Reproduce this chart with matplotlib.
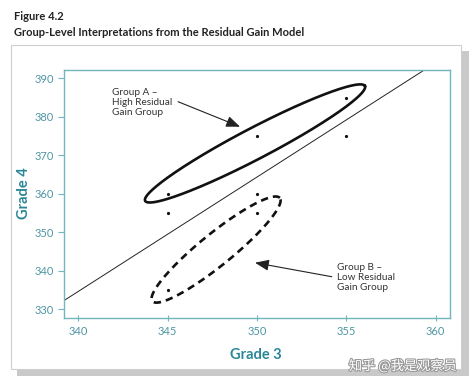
import numpy as np
import matplotlib
matplotlib.use("Agg")
import matplotlib.pyplot as plt
from matplotlib.patches import Rectangle
import matplotlib.patheffects as pe

# scores
grade3 = [345, 345, 345, 350, 350, 350, 355, 355]
grade4 = [360, 355, 335, 375, 360, 355, 385, 375]
xticks = [340, 345, 350, 355, 360]
yticks = [330, 340, 350, 360, 370, 380, 390]

teal_spine = "#72b6bd"
teal_tick = "#4f96a4"
teal_label = "#2a8797"

plt.rcParams['font.family'] = ['Lato', 'DejaVu Sans']

fig = plt.figure(figsize=(4.74, 3.87), dpi=100)

# framed panel with drop shadow
fig.patches.append(Rectangle((17/474, 1-376/387), 452/474, 325/387, transform=fig.transFigure,
                             facecolor="#c9c9c9", edgecolor="none", zorder=0))
fig.patches.append(Rectangle((11/474, 1-369/387), 450/474, 324/387, transform=fig.transFigure,
                             facecolor="white", edgecolor="#cfcfcf", lw=0.8, zorder=1))

ax = fig.add_axes([64/474, 1-318/387, 386/474, 248/387])
ax.set_zorder(2)
ax.set_xlim(339.2, 360.8)
ax.set_ylim(327.7, 392.2)
ax.set_xticks(xticks)
ax.set_yticks(yticks)
for s in ax.spines.values():
    s.set_color(teal_spine)
    s.set_linewidth(1.0)
ax.tick_params(axis='x', direction='inout', length=5, width=0.8, color=teal_spine,
               labelcolor=teal_tick, labelsize=8, pad=3)
ax.tick_params(axis='y', direction='out', length=4, width=0.8, color=teal_spine,
               labelcolor=teal_tick, labelsize=8, pad=3)

# regression line
b1, b0 = np.polyfit(grade3, grade4, 1)
xx = np.array([339.2, 360.8])
ax.plot(xx, b0 + b1*xx, color="#222222", lw=0.7)

ax.plot(grade3, grade4, 'o', color="#111111", ms=2.3, mec='none')

# ellipses drawn in pixel space so the tilt matches the page
sx = ax.bbox.width / (360.8 - 339.2)
sy = ax.bbox.height / (392.2 - 327.7)

def ring(cx, cy, a, b, ang):
    t = np.linspace(0, 2*np.pi, 400)
    th = np.radians(ang)
    px = a*np.cos(t)*np.cos(th) - b*np.sin(t)*np.sin(th)
    py = a*np.cos(t)*np.sin(th) + b*np.sin(t)*np.cos(th)
    return cx + px/sx, cy + py/sy

ex, ey = ring(349.89, 373.1, 124, 15.5, 27.6)
ax.plot(ex, ey, color="#111111", lw=1.9)
ex, ey = ring(347.71, 345.5, 82, 16, 39)
ax.plot(ex, ey, color="#111111", lw=1.9, dashes=(2.8, 1.9))

# callouts
ap = dict(arrowstyle='-|>,head_length=0.7,head_width=0.28', color="#222222", lw=0.8,
          mutation_scale=12, shrinkA=0, shrinkB=0)
ax.annotate("", xy=(349.05, 377.45), xytext=(345.58, 383.96), arrowprops=ap)
ax.annotate("", xy=(349.89, 342.08), xytext=(354.18, 338.44), arrowprops=ap)
ax.text(341.87, 383.8, "Group A –\nHigh Residual\nGain Group", fontsize=7.2, color="#333333",
        va='center', ha='left', linespacing=1.17)
ax.text(354.49, 338.3, "Group B –\nLow Residual\nGain Group", fontsize=7.2, color="#333333",
        va='center', ha='left', linespacing=1.17)

fig.text(256/474, 1-355/387, "Grade 3", fontsize=10.5, fontweight='bold', color=teal_label,
         ha='center', va='center', zorder=3)
fig.text(24/474, 1-193/387, "Grade 4", fontsize=10.5, fontweight='bold', color=teal_label,
         ha='center', va='center', rotation=90, zorder=3)

fig.text(14/474, 1-16/387, "Figure 4.2", fontsize=8, fontweight='bold', color="#222222",
         ha='left', va='center')
fig.text(14/474, 1-32/387, "Group-Level Interpretations from the Residual Gain Model", fontsize=8,
         fontweight='bold', color="#222222", ha='left', va='center')

wm = fig.text(403/474, 1-366/387, "知乎 @我是观察员", fontsize=9.5, color="white",
              family=['Noto Sans CJK SC', 'DejaVu Sans'], ha='center', va='center', zorder=4)
wm.set_path_effects([pe.withStroke(linewidth=1.6, foreground="#9a9a9a")])

fig.savefig("out.png", dpi=100)
